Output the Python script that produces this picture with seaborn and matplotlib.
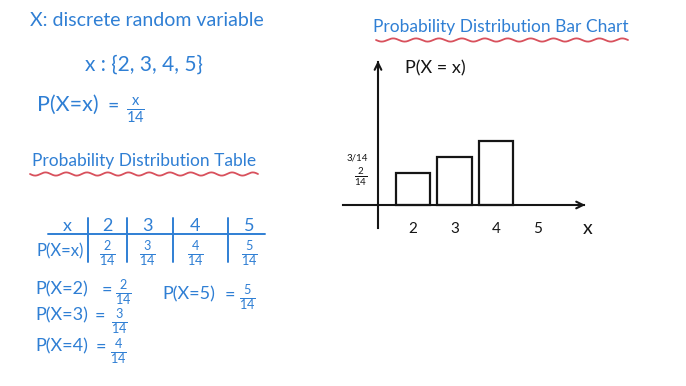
import numpy as np
import matplotlib
matplotlib.use("Agg")
import matplotlib.pyplot as plt
import seaborn as sns

# ---- data ----
values = ["2", "3", "4", "5"]                 # support of X
probs_num = [2, 3, 4, 5]                      # numerators of P(X=x) = x/14
denom = 14
bar_x = ["2", "3", "4"]                       # bars drawn on the board
bar_p = [2 / 14, 3 / 14, 4 / 14]
ytick_vals = [2 / 14, 3 / 14]
ytick_labels = [r"$\frac{2}{14}$", "3/14"]

sns.set_theme(style="white")
FONT = "Lato"
plt.rcParams["font.family"] = [FONT, "DejaVu Sans"]
plt.rcParams["mathtext.fontset"] = "custom"
plt.rcParams["mathtext.rm"] = FONT
plt.rcParams["mathtext.it"] = FONT
plt.rcParams["mathtext.bf"] = FONT

BLUE = "#2f7fd4"
RED = "#d8505c"
INK = "#151515"

W, H = 686, 386
fig = plt.figure(figsize=(W / 100, H / 100), dpi=100)
fig.patch.set_facecolor("white")


def fx(x):
    return x / W


def fy(y):
    return 1 - y / H


def txt(x, y, s, size=12, color=BLUE, ha="left", va="center"):
    fig.text(fx(x), fy(y), s, fontsize=size, color=color, ha=ha, va=va)


def wavy(x0, x1, y, color=RED):
    xs = np.linspace(x0, x1, 300)
    ys = y + 1.6 * np.sin((xs - x0) / (x1 - x0) * 2 * np.pi * 11)
    fig.add_artist(plt.Line2D(fx(xs), fy(ys), color=color, lw=1.3,
                              transform=fig.transFigure))


def hline(x0, x1, y, color=BLUE, lw=1.4):
    fig.add_artist(plt.Line2D([fx(x0), fx(x1)], [fy(y), fy(y)], color=color,
                              lw=lw, transform=fig.transFigure))


def vline(x, y0, y1, color=BLUE, lw=1.4):
    fig.add_artist(plt.Line2D([fx(x), fx(x)], [fy(y0), fy(y1)], color=color,
                              lw=lw, transform=fig.transFigure))


# ---- left side: notes ----
txt(30, 21, "X: discrete random variable", 14)
txt(85, 65, "x : {" + ", ".join(values) + "}", 15)
txt(37, 105, "P(X=x)", 15.5)
txt(113, 106, "=", 14, ha="center")
txt(135, 110, r"$\frac{x}{%d}$" % denom, 15, ha="center")
txt(32, 161, "Probability Distribution Table", 12.5)
wavy(30, 258, 174)

# table
txt(67, 226, "x", 13, ha="center")
col_x = [107, 147, 195, 249]
for cx, v in zip(col_x, values):
    txt(cx, 226, v, 13, ha="center")
hline(48, 265, 234)
for sx in [88, 127, 173, 228]:
    vline(sx, 218, 262)
txt(37, 251, "P(X=x)", 12)
for cx, n in zip(col_x, probs_num):
    txt(cx, 254, r"$\frac{%d}{%d}$" % (n, denom), 13, ha="center")

# equations: (label x, label y, "=" x, fraction x, fraction y, value, numerator)
eqs = [(35, 289, 107, 123, 293, "2", 2), (162, 294, 230, 247, 298, "5", 5),
       (35, 315, 100, 119, 322, "3", 3), (35, 346, 101, 118, 352, "4", 4)]
for x0, y0, xe, xf, yf, v, n in eqs:
    txt(x0, y0, "P(X=%s)" % v, 13)
    txt(xe, y0 + 1, "=", 13, ha="center")
    txt(xf, yf, r"$\frac{%d}{%d}$" % (n, denom), 13, ha="center")

# ---- right side: bar chart ----
txt(501, 27, "Probability Distribution Bar Chart", 12.5, ha="center")
wavy(376, 628, 40)

L, R, T, B = 340, 590, 55, 235
ax = fig.add_axes([fx(L), fy(B), (R - L) / W, (B - T) / H])
ax.set_facecolor("none")

sns.barplot(x=bar_x, y=bar_p, order=bar_x, color="white", edgecolor=INK,
            linewidth=1.6, width=0.84, errorbar=None, ax=ax)

step = 41.5
x_of = lambda px: (px - 413) / step
ypx = 16.0 * 14
y_of = lambda py: (205 - py) / ypx
ax.set_xlim(x_of(L), x_of(R))
ax.set_ylim(y_of(B), y_of(T))

for s in ["top", "right"]:
    ax.spines[s].set_visible(False)
ax.spines["left"].set_position(("data", x_of(378)))
ax.spines["left"].set_bounds(y_of(228), y_of(62))
ax.spines["bottom"].set_position(("data", 0))
ax.spines["bottom"].set_bounds(x_of(343), x_of(584))
for s in ["left", "bottom"]:
    ax.spines[s].set_color(INK)
    ax.spines[s].set_linewidth(1.5)

ax.annotate("", xy=(x_of(378), y_of(58)), xytext=(x_of(378), y_of(70)),
            arrowprops=dict(arrowstyle="->", lw=1.5, color=INK))
ax.annotate("", xy=(x_of(588), 0), xytext=(x_of(575), 0),
            arrowprops=dict(arrowstyle="->", lw=1.5, color=INK))

ax.set_xticks(range(len(values)))
ax.set_xticklabels(values, fontsize=11, color=INK)
ax.set_yticks(ytick_vals)
ax.set_yticklabels(ytick_labels, fontsize=7, color=INK)
ax.get_yticklabels()[0].set_fontsize(10)
ax.tick_params(axis="both", direction="inout", length=9, width=1.3,
               colors=INK, pad=3)
ax.tick_params(axis="x", pad=8)
ax.set_xlabel("")
ax.set_ylabel("")

txt(405, 68, "P(X = x)", 13, color=INK)
txt(588, 228, "x", 14, color=INK, ha="center")

fig.savefig("out.png", dpi=100, facecolor="white")
